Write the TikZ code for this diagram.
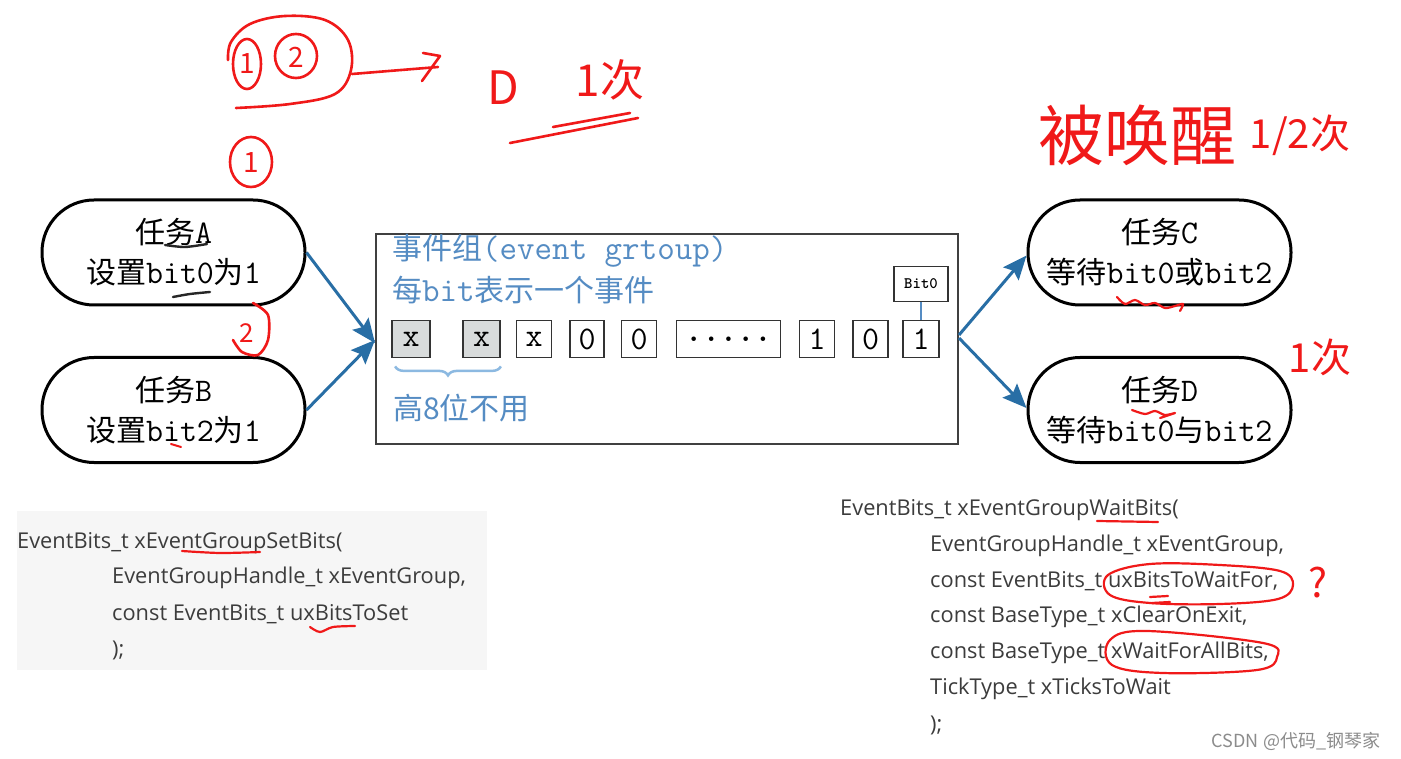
\documentclass[tikz,border=0pt]{standalone}
\usepackage{fontspec}
\newfontfamily\cjk{Noto Sans CJK SC}
\newfontfamily\codefont{Open Sans}
\usetikzlibrary{arrows.meta,decorations.pathreplacing}
\definecolor{ink}{RGB}{240,25,25}
\definecolor{arrblue}{RGB}{40,110,165}
\definecolor{txtblue}{RGB}{85,140,195}
\definecolor{braceblue}{RGB}{140,185,225}
\definecolor{cellgray}{RGB}{216,219,219}
\definecolor{codegray}{RGB}{246,246,246}
\definecolor{codetext}{RGB}{60,60,60}
\newcommand\mt[1]{{\fontsize{33}{40}\selectfont\ttfamily #1}}
\newcommand\mtb[1]{{\fontsize{34}{40}\selectfont\ttfamily #1}}
\begin{document}
\begin{tikzpicture}[x=1pt,y=-1pt,
  task/.style={draw=black, line width=3pt, rounded corners=52pt, minimum width=263pt, minimum height=105pt, align=center, inner sep=0pt, font=\fontsize{30}{40}\selectfont\cjk},
  cell/.style={draw=black!80, line width=1.8pt, minimum height=37pt, inner sep=0pt, font=\fontsize{33}{36}\selectfont\ttfamily},
  arr/.style={draw=arrblue, line width=3pt, -{Stealth[length=24pt,width=20pt,inset=4pt]}},
  grptext/.style={anchor=west, inner sep=0pt, text=txtblue, font=\fontsize{30}{36}\selectfont\cjk},
  code/.style={anchor=west, inner sep=0pt, text=codetext, font=\fontsize{21.8}{26}\selectfont\codefont},
  ink/.style={draw=ink, line width=2.6pt, line cap=round, line join=round},
  inktext/.style={text=ink, inner sep=0pt, font=\cjk},
  pen/.style={draw=black!85, line width=2.4pt, line cap=round}
]
\useasboundingbox[fill=white] (0,0) rectangle (1401,759);

% tasks
\node[task] (A) at (173.5,252.5) {任务\mt{A}\\设置\mt{bit0}为\mt{1}};
\node[task] (B) at (173.5,410) {任务\mt{B}\\设置\mt{bit2}为\mt{1}};
\node[task] (C) at (1159.5,252.5) {任务\mt{C}\\等待\mt{bit0}或\mt{bit2}};
\node[task] (D) at (1159.5,410) {任务\mt{D}\\等待\mt{bit0}与\mt{bit2}};

% event group box
\node[draw=black!75, line width=2pt, minimum width=582pt, minimum height=210pt, inner sep=0pt] (G) at (667,339) {};
\node[grptext] (t1) at (392,251) {事件组\mtb{(event grtoup)}};
\node[grptext] (t2) at (392,290) {每\mtb{bit}表示一个事件};

% cells
\node[cell, fill=cellgray, minimum width=38pt] (c1) at (411,339) {x};
\node[cell, fill=cellgray, minimum width=37pt] (c2) at (481.5,339) {x};
\node[cell, minimum width=35pt] (c3) at (534,339) {x};
\node[cell, minimum width=34pt] (c4) at (587,339) {0};
\node[cell, minimum width=35pt] (c5) at (639,339) {0};
\node[cell, minimum width=104pt] (c6) at (728.5,339) {\bfseries.....};
\node[cell, minimum width=35pt] (c7) at (817,339) {1};
\node[cell, minimum width=35pt] (c8) at (870.5,339) {0};
\node[cell, minimum width=36pt] (c9) at (921,339) {1};
\node[draw=black!80, line width=1.5pt, minimum width=54pt, minimum height=35pt, inner sep=0pt, font=\fontsize{16}{18}\selectfont\ttfamily\bfseries] (bit0) at (921,284) {Bit0};
\draw[txtblue, line width=1.5pt] (bit0.south) -- (c9.north);

% brace
\draw[braceblue, line width=2.5pt, decorate, decoration={brace, mirror, amplitude=9pt}] (c1.south west) ++(4,8) coordinate (bl) -- (c2.south east |- bl);
\node[grptext] (t3) at (393,408) {高8位不用};

% arrows
\draw[arr] (A.east) -- ([yshift=-4pt]G.west);
\draw[arr] (B.east) -- ([yshift=-1pt]G.west);
\draw[arr] ([yshift=4pt]G.east) -- ([yshift=-3pt]C.west);
\draw[arr] ([yshift=1pt]G.east) -- ([yshift=2pt]D.west);

% code left
\fill[codegray] (17,511) rectangle (487,670);
\node[code] (l1) at (17,543) {EventBits\_t xEventGroupSetBits(};
\node[code] (l2) at (112,578) {EventGroupHandle\_t xEventGroup,};
\node[code] (l3) at (112,614) {const EventBits\_t uxBitsToSet};
\node[code] (l4) at (112,650) {);};

% code right
\node[code] (r1) at (840,510) {EventBits\_t xEventGroupWaitBits(};
\node[code] (r2) at (930,546) {EventGroupHandle\_t xEventGroup,};
\node[code] (r3) at (930,581) {const EventBits\_t uxBitsToWaitFor,};
\node[code] (r4) at (930,617) {const BaseType\_t xClearOnExit,};
\node[code] (r5) at (930,653) {const BaseType\_t xWaitForAllBits,};
\node[code] (r6) at (930,689) {TickType\_t xTicksToWait};
\node[code] (r7) at (930,725) {);};

\node[inner sep=0pt, text=black!45, font=\fontsize{18}{20}\selectfont\cjk] (wm) at (1296,741) {CSDN @代码\_钢琴家};

% ---- hand annotations ----
\draw[ink] plot[smooth, tension=0.6] coordinates {(236,108) (290,104) (335,94) (351,70) (348,40) (325,20) (285,16) (250,24) (231,42) (228,60)};
\draw[ink] (247,64) ellipse [x radius=14, y radius=25];
\node[inktext, font=\fontsize{28}{30}\selectfont\cjk] (n1) at (247,64) {1};
\draw[ink] (296,56) ellipse [x radius=21, y radius=22];
\node[inktext, font=\fontsize{28}{30}\selectfont\cjk] (n2) at (296,57) {2};
\draw[ink] (352,74) -- (438,67);
\draw[ink] (423,53) -- (440,56) -- (422,81);
\node[inktext, font=\fontsize{46}{50}\selectfont\cjk] (dd) at (503,88) {D};
\node[inktext, font=\fontsize{44}{48}\selectfont\cjk] (once1) at (610,80) {1次};
\draw[ink] (553,127) -- (630,113);
\draw[ink] (510,143) -- (638,118);
\draw[ink] (251,162) ellipse [x radius=21, y radius=25];
\node[inktext, font=\fontsize{28}{30}\selectfont\cjk] (n3) at (251,163) {1};
\draw[ink] plot[smooth] coordinates {(253,303) (268,315) (268,340) (258,355) (242,352) (233,340)};
\node[inktext, font=\fontsize{26}{28}\selectfont\cjk] (n4) at (247,333) {2};

\draw[pen] plot[smooth] coordinates {(165,245) (185,247) (207,244)};
\draw[pen] plot[smooth] coordinates {(173,297) (190,294) (210,292)};
\draw[ink, line width=2pt] (171,444) -- (181,447);

\draw[ink, line width=2.2pt] plot[smooth] coordinates {(1117,297) (1125,304) (1135,300) (1145,305) (1155,303) (1165,308) (1175,306) (1183,304) (1180,311)};
\draw[ink, line width=2.2pt] plot[smooth] coordinates {(1132,410) (1145,414) (1155,411) (1165,415) (1175,413) (1160,418)};

\node[inktext, font=\fontsize{40}{44}\selectfont\cjk] (once2) at (1320,357) {1次};
\node[inktext, font=\fontsize{66}{70}\selectfont\cjk] (wake) at (1137,135) {被唤醒};
\node[inktext, font=\fontsize{40}{44}\selectfont\cjk] (half) at (1300,135) {1/2次};

\draw[ink, line width=2.2pt] plot[smooth] coordinates {(182,551) (220,553) (260,552)};
\draw[ink, line width=2.2pt] plot[smooth] coordinates {(310,627) (320,632) (333,627) (355,626)};
\draw[ink, line width=2.2pt] (1097,521) -- (1158,522);
\draw[ink, line width=2.2pt] plot[smooth cycle, tension=0.6] coordinates {(1108,575) (1150,564) (1220,565) (1280,571) (1293,585) (1278,599) (1220,604) (1150,603) (1110,595)};
\draw[ink, line width=2.2pt] (1150,597) -- (1168,596) (1152,603) -- (1170,602);
\draw[ink, line width=2.2pt] plot[smooth cycle, tension=0.6] coordinates {(1110,640) (1147,631) (1263,643) (1277,657) (1257,670) (1163,673) (1112,665)};
\node[inktext, font=\fontsize{40}{44}\selectfont\cjk] (qm) at (1318,583) {?};
\end{tikzpicture}
\end{document}
